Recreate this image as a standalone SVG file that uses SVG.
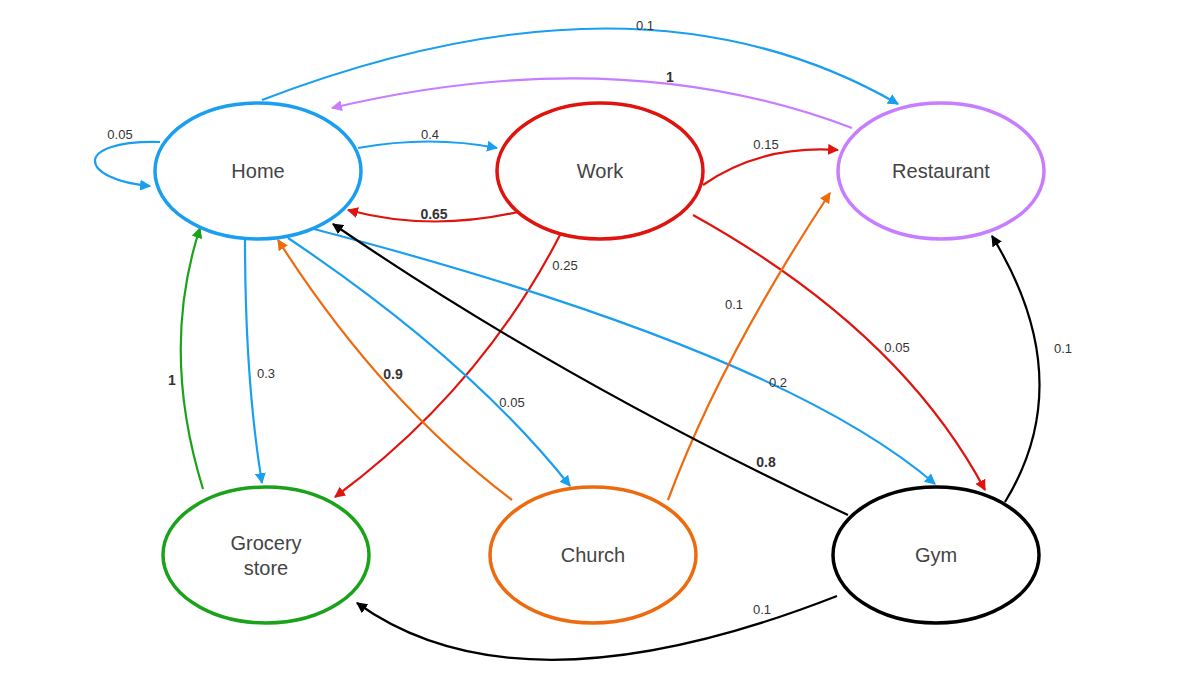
<svg xmlns="http://www.w3.org/2000/svg" width="1200" height="675" viewBox="0 0 1200 675">
<defs>
<style>
.n{fill:#fff;stroke-width:3.5}
.t{font-family:"Liberation Sans",Arial,sans-serif;font-size:20px;fill:#444;text-anchor:middle}
.l{font-family:"Liberation Sans",Arial,sans-serif;font-size:13px;fill:#333;text-anchor:middle}
.b{font-weight:bold;font-size:14px}
.e{fill:none;stroke-width:2.2}
</style>
<marker id="ab" viewBox="0 0 10 10" refX="9" refY="5" markerWidth="5" markerHeight="5" orient="auto"><path d="M0,0L10,5L0,10z" fill="#1a9ff0"/></marker>
<marker id="ar" viewBox="0 0 10 10" refX="9" refY="5" markerWidth="5" markerHeight="5" orient="auto"><path d="M0,0L10,5L0,10z" fill="#e0140f"/></marker>
<marker id="ap" viewBox="0 0 10 10" refX="9" refY="5" markerWidth="5" markerHeight="5" orient="auto"><path d="M0,0L10,5L0,10z" fill="#c77dff"/></marker>
<marker id="ag" viewBox="0 0 10 10" refX="9" refY="5" markerWidth="5" markerHeight="5" orient="auto"><path d="M0,0L10,5L0,10z" fill="#1aa31a"/></marker>
<marker id="ao" viewBox="0 0 10 10" refX="9" refY="5" markerWidth="5" markerHeight="5" orient="auto"><path d="M0,0L10,5L0,10z" fill="#ee6a0f"/></marker>
<marker id="ak" viewBox="0 0 10 10" refX="9" refY="5" markerWidth="5" markerHeight="5" orient="auto"><path d="M0,0L10,5L0,10z" fill="#000"/></marker>
</defs>
<rect width="1200" height="675" fill="#fff"/>
<g id="connectors">
<path class="e" stroke="#1a9ff0" marker-end="url(#ab)" d="M262,100 Q640,-45 898,104"/>
<path class="e" stroke="#c77dff" marker-end="url(#ap)" d="M852,128 Q620,40 332,108"/>
<path class="e" stroke="#1a9ff0" marker-end="url(#ab)" d="M160,142 C70,140 80,180 150,186"/>
<path class="e" stroke="#1a9ff0" marker-end="url(#ab)" d="M358,148 Q430,135 497,148"/>
<path class="e" stroke="#e0140f" marker-end="url(#ar)" d="M518,212 Q430,232 348,210"/>
<path class="e" stroke="#e0140f" marker-end="url(#ar)" d="M703,185 Q760,145 838,150"/>
<path class="e" stroke="#e0140f" marker-end="url(#ar)" d="M693,215 Q900,330 985,490"/>
<path class="e" stroke="#e0140f" marker-end="url(#ar)" d="M560,235 Q480,390 335,497"/>
<path class="e" stroke="#1a9ff0" marker-end="url(#ab)" d="M245,240 Q245,380 262,483"/>
<path class="e" stroke="#1aa31a" marker-end="url(#ag)" d="M203,489 Q160,350 200,228"/>
<path class="e" stroke="#1a9ff0" marker-end="url(#ab)" d="M288,238 Q470,360 570,486"/>
<path class="e" stroke="#ee6a0f" marker-end="url(#ao)" d="M512,500 Q380,400 278,240"/>
<path class="e" stroke="#1a9ff0" marker-end="url(#ab)" d="M310,228 Q780,350 935,484"/>
<path class="e" stroke="#ee6a0f" marker-end="url(#ao)" d="M668,500 Q720,360 830,193"/>
<path class="e" stroke="#000" marker-end="url(#ak)" d="M848,515 Q560,380 333,224"/>
<path class="e" stroke="#000" marker-end="url(#ak)" d="M1005,502 Q1080,380 992,236"/>
<path class="e" stroke="#000" marker-end="url(#ak)" d="M837,596 Q520,720 357,603"/>
<text class="l" x="645" y="30">0.1</text>
<text class="l b" x="670" y="82">1</text>
<text class="l" x="120" y="139">0.05</text>
<text class="l" x="430" y="139">0.4</text>
<text class="l b" x="434" y="219">0.65</text>
<text class="l" x="766" y="149">0.15</text>
<text class="l" x="897" y="352">0.05</text>
<text class="l" x="565" y="270">0.25</text>
<text class="l" x="266" y="378">0.3</text>
<text class="l b" x="172" y="385">1</text>
<text class="l" x="512" y="407">0.05</text>
<text class="l b" x="393" y="379">0.9</text>
<text class="l" x="778" y="387">0.2</text>
<text class="l" x="734" y="309">0.1</text>
<text class="l b" x="766" y="467">0.8</text>
<text class="l" x="1063" y="353">0.1</text>
<text class="l" x="762" y="614">0.1</text>
</g>
<g id="home"><ellipse class="n" stroke="#1a9ff0" cx="258" cy="171" rx="103" ry="68"/><text class="t" x="258" y="178">Home</text></g>
<g id="work"><ellipse class="n" stroke="#e0140f" cx="600" cy="171" rx="103" ry="68"/><text class="t" x="600" y="178">Work</text></g>
<g id="restaurant"><ellipse class="n" stroke="#c77dff" cx="941" cy="171" rx="103" ry="68"/><text class="t" x="941" y="178">Restaurant</text></g>
<g id="grocery"><ellipse class="n" stroke="#1aa31a" cx="266" cy="555" rx="103" ry="68"/><text class="t" x="266" y="550">Grocery</text><text class="t" x="266" y="575">store</text></g>
<g id="church"><ellipse class="n" stroke="#ee6a0f" cx="593" cy="555" rx="103" ry="68"/><text class="t" x="593" y="562">Church</text></g>
<g id="gym"><ellipse class="n" stroke="#000" cx="936" cy="555" rx="103" ry="68"/><text class="t" x="936" y="562">Gym</text></g>
</svg>
